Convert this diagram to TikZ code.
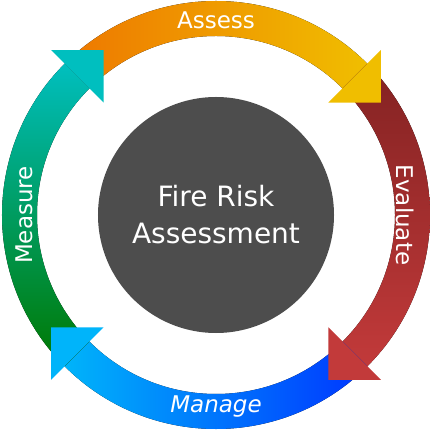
\documentclass[tikz,border=0pt]{standalone}
\usepackage{fontspec}
\setmainfont{DejaVu Sans}
\usetikzlibrary{positioning}

\definecolor{assessA}{HTML}{EE7700}
\definecolor{assessB}{HTML}{F0BE00}
\definecolor{evalA}{HTML}{832222}
\definecolor{evalB}{HTML}{C23A3A}
\definecolor{manageA}{HTML}{0036FF}
\definecolor{manageB}{HTML}{00B4FA}
\definecolor{measureA}{HTML}{007800}
\definecolor{measureB}{HTML}{00BFBF}
\definecolor{coregrey}{HTML}{4D4D4D}

\begin{document}
\begin{tikzpicture}[
  core/.style={circle, fill=coregrey, minimum size=236pt, inner sep=0pt, text=white, align=center, font=\fontsize{28}{37}\selectfont},
  label/.style={text=white, inner sep=0pt, anchor=base, font=\fontsize{23}{27}\selectfont}
]
  \useasboundingbox (-216pt,-215pt) rectangle (214pt,215pt);

  % arrow bodies
  \fill[left color=assessA, right color=assessB] (135:179pt) arc[start angle=135, end angle=45, radius=179pt] -- (45:214pt) arc[start angle=45, end angle=135, radius=214pt] -- cycle;
  \fill[top color=evalA, bottom color=evalB] (45:179pt) arc[start angle=45, end angle=-45, radius=179pt] -- (-45:214pt) arc[start angle=-45, end angle=45, radius=214pt] -- cycle;
  \fill[left color=manageB, right color=manageA] (-45:179pt) arc[start angle=-45, end angle=-135, radius=179pt] -- (-135:214pt) arc[start angle=-135, end angle=-45, radius=214pt] -- cycle;
  \fill[top color=measureB, bottom color=measureA] (-135:179pt) arc[start angle=-135, end angle=-225, radius=179pt] -- (135:214pt) arc[start angle=135, end angle=225, radius=214pt] -- cycle;

  % arrow heads
  \coordinate (assessOut) at (45:233pt);
  \coordinate (assessIn) at (45:159pt);
  \coordinate (evalOut) at (-45:233pt);
  \coordinate (evalIn) at (-45:159pt);
  \coordinate (manageOut) at (-135:233pt);
  \coordinate (manageIn) at (-135:159pt);
  \coordinate (measureOut) at (135:233pt);
  \coordinate (measureIn) at (135:159pt);
  \fill[assessB] (assessOut) -- (assessIn) -- (assessOut |- assessIn) -- cycle;
  \fill[evalB] (evalOut) -- (evalIn) -- (evalIn |- evalOut) -- cycle;
  \fill[manageB] (manageOut) -- (manageIn) -- (manageOut |- manageIn) -- cycle;
  \fill[measureB] (measureOut) -- (measureIn) -- (measureIn |- measureOut) -- cycle;

  \node[core] (center) at (0,0) {Fire Risk\\Assessment};

  \node[label] (assess) at (90:186pt) {Assess};
  \node[label, rotate=-90] (evaluate) at (0:180pt) {Evaluate};
  \node[label] (manage) at (270:197pt) {\itshape Manage};
  \node[label, rotate=90] (measure) at (180:183pt) {Measure};
\end{tikzpicture}
\end{document}
